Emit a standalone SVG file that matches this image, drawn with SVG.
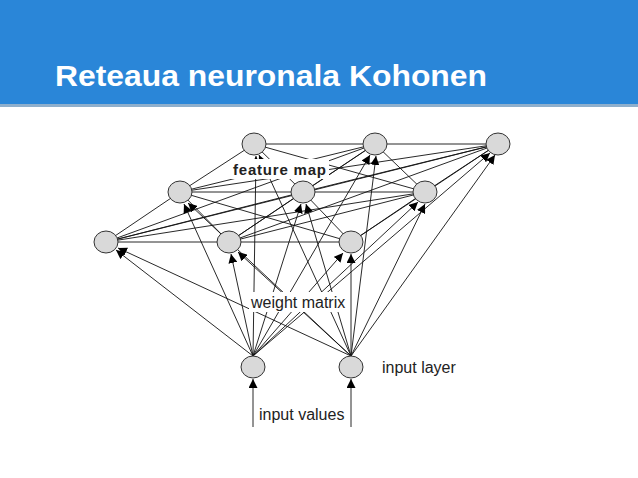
<svg xmlns="http://www.w3.org/2000/svg" width="638" height="478" viewBox="0 0 638 478">
<style>
.n{fill:#d9d9d9;stroke:#333;stroke-width:1}
.c line{stroke:#111;stroke-width:0.9}
.a{marker-end:url(#ar)}
.t{font-family:"Liberation Sans",Arial,sans-serif;fill:#222}
</style>
<defs><marker id="ar" viewBox="0 0 10 10" refX="10" refY="5" markerWidth="9" markerHeight="9" markerUnits="userSpaceOnUse" orient="auto"><path d="M0,0L10,5L0,10z" fill="#000"/></marker></defs>
<rect width="638" height="478" fill="#fff"/>
<rect width="638" height="104" fill="#2a86d8"/>
<rect y="104" width="638" height="3" fill="#1f5f9a" opacity="0.5"/>
<text x="55" y="86" font-family="Liberation Sans,Arial,sans-serif" font-weight="bold" font-size="29" textLength="432" lengthAdjust="spacingAndGlyphs" fill="#fff">Reteaua neuronala Kohonen</text>
<g class="c" id="connectors">
<line x1="254" y1="144" x2="498" y2="144"/><line x1="180" y1="192" x2="425" y2="192"/><line x1="106" y1="242" x2="351" y2="242"/>
<line x1="254" y1="144" x2="180" y2="192"/><line x1="254" y1="144" x2="303" y2="192"/><line x1="254" y1="144" x2="425" y2="192"/>
<line x1="375" y1="144" x2="180" y2="192"/><line x1="375" y1="144" x2="303" y2="192"/><line x1="375" y1="144" x2="425" y2="192"/>
<line x1="498" y1="144" x2="180" y2="192"/><line x1="498" y1="144" x2="303" y2="192"/><line x1="498" y1="144" x2="425" y2="192"/>
<line x1="180" y1="192" x2="106" y2="242"/><line x1="180" y1="192" x2="229" y2="242"/><line x1="180" y1="192" x2="351" y2="242"/>
<line x1="303" y1="192" x2="106" y2="242"/><line x1="303" y1="192" x2="229" y2="242"/><line x1="303" y1="192" x2="351" y2="242"/>
<line x1="425" y1="192" x2="106" y2="242"/><line x1="425" y1="192" x2="229" y2="242"/><line x1="425" y1="192" x2="351" y2="242"/>
<line x1="375" y1="144" x2="106" y2="242"/><line x1="375" y1="144" x2="229" y2="242"/><line x1="498" y1="144" x2="106" y2="242"/><line x1="498" y1="144" x2="229" y2="242"/><line x1="498" y1="144" x2="351" y2="242"/>
<line class="a" x1="253" y1="356" x2="116" y2="250"/><line class="a" x1="253" y1="356" x2="231" y2="254"/><line class="a" x1="253" y1="356" x2="343" y2="253"/>
<line class="a" x1="253" y1="356" x2="184" y2="204"/><line class="a" x1="253" y1="356" x2="301" y2="204"/><line class="a" x1="253" y1="356" x2="418" y2="202"/>
<line class="a" x1="253" y1="356" x2="256" y2="156"/><line class="a" x1="253" y1="356" x2="370" y2="155"/><line class="a" x1="253" y1="356" x2="490" y2="153"/>
<line class="a" x1="351" y1="356" x2="118" y2="248"/><line class="a" x1="351" y1="356" x2="238" y2="252"/><line class="a" x1="351" y1="356" x2="351" y2="254"/>
<line class="a" x1="351" y1="356" x2="188" y2="203"/><line class="a" x1="351" y1="356" x2="306" y2="204"/><line class="a" x1="351" y1="356" x2="425" y2="204"/>
<line class="a" x1="351" y1="356" x2="259" y2="155"/><line class="a" x1="351" y1="356" x2="376" y2="156"/><line class="a" x1="351" y1="356" x2="495" y2="155"/>
<line class="a" x1="253" y1="427" x2="253" y2="379"/><line class="a" x1="351" y1="427" x2="351" y2="379"/>
</g>
<g id="n1"><ellipse class="n" cx="254" cy="144" rx="12" ry="11"/></g>
<g id="n2"><ellipse class="n" cx="375" cy="144" rx="12" ry="11"/></g>
<g id="n3"><ellipse class="n" cx="498" cy="144" rx="12" ry="11"/></g>
<g id="n4"><ellipse class="n" cx="180" cy="192" rx="12" ry="11"/></g>
<g id="n5"><ellipse class="n" cx="303" cy="192" rx="12" ry="11"/></g>
<g id="n6"><ellipse class="n" cx="425" cy="192" rx="12" ry="11"/></g>
<g id="n7"><ellipse class="n" cx="106" cy="242" rx="12" ry="11"/></g>
<g id="n8"><ellipse class="n" cx="229" cy="242" rx="12" ry="11"/></g>
<g id="n9"><ellipse class="n" cx="351" cy="242" rx="12" ry="11"/></g>
<g id="i1"><ellipse class="n" cx="253" cy="367" rx="12" ry="11"/></g>
<g id="i2"><ellipse class="n" cx="351" cy="367" rx="12" ry="11"/></g>
<g id="labels">
<rect x="231" y="159" width="98" height="20" fill="#fff"/>
<text class="t" x="233" y="175" font-size="15" font-weight="bold" textLength="93">feature map</text>
<rect x="249" y="292" width="100" height="20" fill="#fff"/>
<text class="t" x="251" y="308" font-size="16">weight matrix</text>
<text class="t" x="382" y="373" font-size="16">input layer</text>
<rect x="257" y="404" width="92" height="20" fill="#fff"/>
<text class="t" x="259" y="420" font-size="16">input values</text>
</g>
</svg>
